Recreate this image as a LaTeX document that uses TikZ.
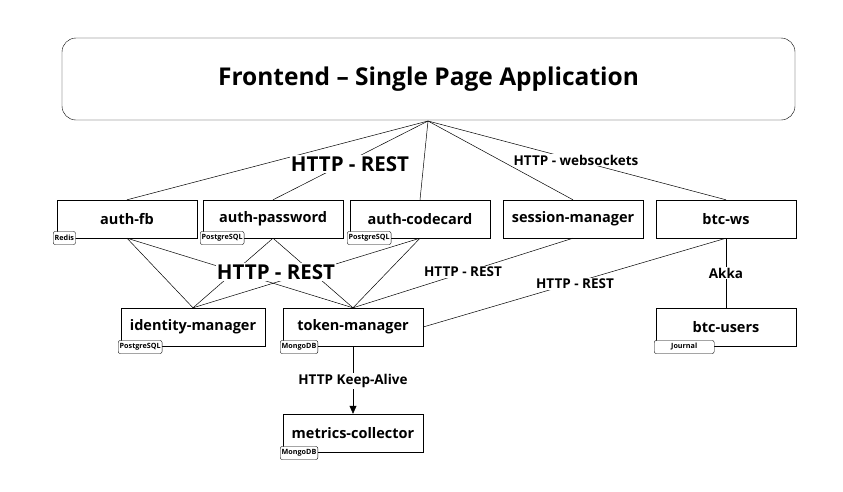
\documentclass[tikz,border=0pt]{standalone}
\usepackage{fontspec}
\setmainfont{Open Sans}
\usetikzlibrary{arrows.meta}
\begin{document}
\begin{tikzpicture}[x=1pt,y=-1pt,
 svc/.style={draw,minimum width=140pt,minimum height=38pt,font=\bfseries\fontsize{14.5}{16}\selectfont,inner sep=0pt},
 tag/.style={draw,fill=white,rounded corners=2pt,font=\bfseries\fontsize{7.2}{8}\selectfont,inner sep=1.5pt,minimum height=13pt,anchor=west},
 lbl/.style={font=\bfseries\fontsize{13.5}{15}\selectfont,fill=white,inner sep=1pt},
 big/.style={font=\bfseries\fontsize{20.5}{22}\selectfont,fill=white,inner sep=1pt},
 ln/.style={draw,line width=0.5pt}]
\useasboundingbox (0,0) rectangle (843,491);
\node[draw,rounded corners=14pt,minimum width=733pt,minimum height=82pt,font=\bfseries\fontsize{24.5}{28}\selectfont] (fe) at (428.5,79) {Frontend -- Single Page Application};
\coordinate (apex) at (428,121);
\node[svc] (fb) at (127,219) {auth-fb};
\node[svc] (pw) at (273,219) {auth-password};
\node[svc] (cc) at (420,219) {auth-codecard};
\node[svc] (sm) at (573,219) {session-manager};
\node[svc] (ws) at (726,219) {btc-ws};
\node[svc,minimum width=144pt] (im) at (193,327) {identity-manager};
\node[svc] (tm) at (353,327) {token-manager};
\node[svc] (bu) at (726,327) {btc-users};
\node[svc] (mc) at (353,433) {metrics-collector};
\foreach \n in {fb,pw,cc,sm,ws} \draw[ln] (apex) -- (\n.north);
\foreach \a in {fb,pw,cc} {\draw[ln] (\a.south) -- (im.north); \draw[ln] (\a.south) -- (tm.north);}
\draw[ln] (sm.south) -- (tm.north);
\draw[ln] (ws.south) -- (tm.east);
\draw[ln] (ws.south) -- (bu.north);
\draw[ln,-{Triangle[length=8pt,width=7pt]}] (tm.south) -- (mc.north);
\node[tag] (t1) at (53,238) {Redis};
\node[tag] (t2) at (200,238) {PostgreSQL};
\node[tag] (t3) at (347,238) {PostgreSQL};
\node[tag] (t4) at (118,347) {PostgreSQL};
\node[tag] (t5) at (280,347) {MongoDB};
\node[tag,minimum width=60pt] (t6) at (654,347) {Journal};
\node[tag] (t7) at (280,453) {MongoDB};
\node[big] (l1) at (350,164) {HTTP - REST};
\node[lbl] (l2) at (576,160) {HTTP - websockets};
\node[big] (l3) at (276,272) {HTTP - REST};
\node[lbl] (l4) at (463,272) {HTTP - REST};
\node[lbl] (l5) at (575,284) {HTTP - REST};
\node[lbl] (l6) at (726,273) {Akka};
\node[lbl] (l7) at (353,381) {HTTP Keep-Alive};
\end{tikzpicture}
\end{document}
